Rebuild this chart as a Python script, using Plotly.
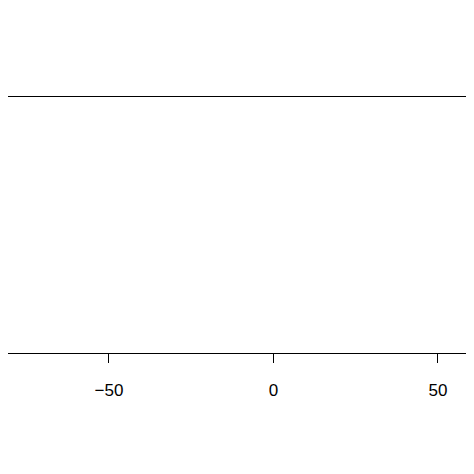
import plotly.graph_objects as go

tick_values = [-50, 0, 50]
tick_labels = ["\u221250", "0", "50"]
x_range = [-80.7, 63.4]

fig = go.Figure()
fig.add_trace(go.Scatter(x=[], y=[], mode="markers", showlegend=False))
fig.update_layout(
    width=474, height=474,
    margin=dict(l=0, r=0, t=89, b=129),
    paper_bgcolor="white", plot_bgcolor="white",
    font=dict(family="Liberation Sans, Arial, sans-serif", size=17, color="black"),
    xaxis=dict(range=x_range, tickvals=tick_values, ticktext=tick_labels,
               showgrid=False, zeroline=False, showline=True, linecolor="black",
               linewidth=1.3, mirror=True, ticks="outside", ticklen=9,
               tickwidth=1.3, tickcolor="black", ticklabelstandoff=12),
    yaxis=dict(range=[0, 1], showgrid=False, zeroline=False, showline=False,
               showticklabels=False, ticks=""),
)
fig.write_html("out.html")
